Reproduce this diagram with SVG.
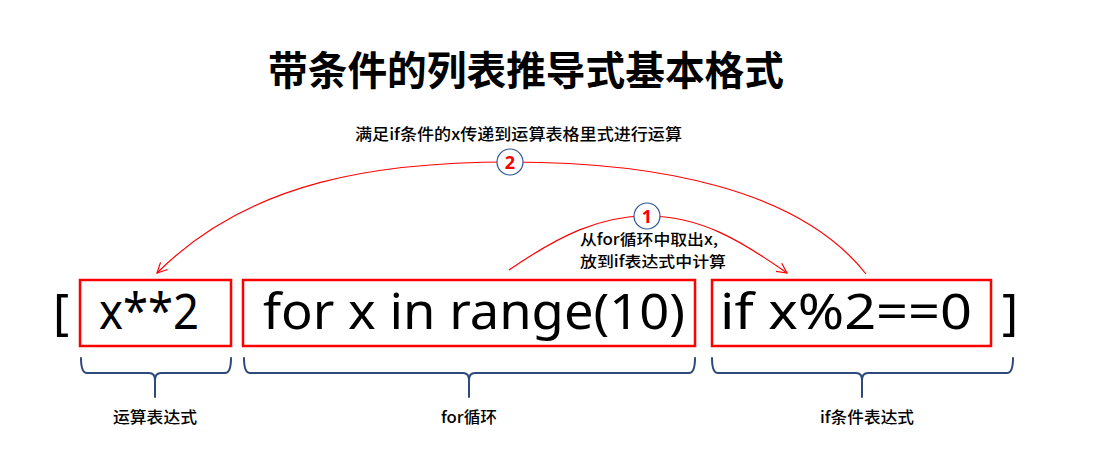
<svg xmlns="http://www.w3.org/2000/svg" width="1118" height="476" viewBox="0 0 1118 476">
<defs>
<style>
.cjk{font-family:"Noto Sans CJK SC","Noto Sans",sans-serif;fill:#000}
.title{font-size:40px;font-weight:bold}
.note{font-size:16px;font-weight:500}
.note1{font-size:15px;font-weight:500}
.lbl{font-size:15.5px;font-weight:500}
.big{font-family:"Noto Sans","Open Sans",sans-serif;font-size:49px;fill:#000}
.box{fill:none;stroke:#ff0000;stroke-width:2.5}
.brace{fill:none;stroke:#2e4a7d;stroke-width:2;stroke-linecap:round}
.arc{fill:none;stroke:#ff0000;stroke-width:1.2}
.badge circle{fill:#fff;stroke:#2f5597;stroke-width:1.2}
.badge text{font-family:"Noto Sans",sans-serif;font-size:18px;font-weight:bold;fill:#ff0000;text-anchor:middle}
</style>
<marker id="vh" viewBox="-11 -6 12 12" markerWidth="12" markerHeight="12" refX="0" refY="0" orient="auto" markerUnits="userSpaceOnUse">
<path d="M-10,-5 L0,0 L-10,5" fill="none" stroke="#ff0000" stroke-width="1.2"/>
</marker>
</defs>
<rect width="1118" height="476" fill="#fff"/>

<g id="title"><text class="cjk title" x="268" y="85" textLength="516" lengthAdjust="spacingAndGlyphs">带条件的列表推导式基本格式</text></g>

<g id="bracket-open"><text class="big" x="53" y="329">[</text></g>
<g id="bracket-close"><text class="big" x="1002" y="329">]</text></g>

<g id="expr">
<rect class="box" x="80" y="280" width="151" height="66"/>
<text class="big" x="99" y="329" textLength="100" lengthAdjust="spacingAndGlyphs">x**2</text>
</g>
<g id="loop">
<rect class="box" x="243" y="280" width="452" height="66"/>
<text class="big" x="263" y="329" textLength="422" lengthAdjust="spacingAndGlyphs">for x in range(10)</text>
</g>
<g id="cond">
<rect class="box" x="712" y="280" width="279" height="66"/>
<text class="big" x="720" y="329" textLength="252" lengthAdjust="spacingAndGlyphs">if x%2==0</text>
</g>

<g id="connectors">
<path class="arc" d="M866,274 C800,190 660,162 510,162 C380,162 250,180 157,273" marker-end="url(#vh)"/>
<path class="arc" d="M509,270 C560,235 600,216 647,216 C700,216 740,240 787,273" marker-end="url(#vh)"/>
</g>

<g id="badge2" class="badge"><circle cx="510" cy="162" r="13"/><text x="510" y="168.5">2</text></g>
<g id="badge1" class="badge"><circle cx="647" cy="216" r="13"/><text x="647" y="222.5">1</text></g>

<g id="note2"><text class="cjk note" x="355" y="140" textLength="327" lengthAdjust="spacingAndGlyphs">满足if条件的x传递到运算表格里式进行运算</text></g>
<g id="note1">
<text class="cjk note1" x="580" y="245" textLength="138" lengthAdjust="spacingAndGlyphs">从for循环中取出x,</text>
<text class="cjk note1" x="580" y="267" textLength="146" lengthAdjust="spacingAndGlyphs">放到if表达式中计算</text>
</g>

<g id="brace1">
<path class="brace" d="M81,358 Q81,373 87,373 L149,373 Q155,373 155,380 L155,397 M155,380 Q155,373 161,373 L225,373 Q231,373 231,358"/>
<text class="cjk lbl" x="113" y="423" textLength="84" lengthAdjust="spacingAndGlyphs">运算表达式</text>
</g>
<g id="brace2">
<path class="brace" d="M244,358 Q244,373 250,373 L463,373 Q469,373 469,380 L469,397 M469,380 Q469,373 475,373 L689,373 Q695,373 695,358"/>
<text class="cjk lbl" x="441" y="423" textLength="56" lengthAdjust="spacingAndGlyphs">for循环</text>
</g>
<g id="brace3">
<path class="brace" d="M712,358 Q712,373 718,373 L856,373 Q862,373 862,380 L862,397 M862,380 Q862,373 868,373 L1007,373 Q1013,373 1013,358"/>
<text class="cjk lbl" x="820" y="423" textLength="94" lengthAdjust="spacingAndGlyphs">if条件表达式</text>
</g>
</svg>
